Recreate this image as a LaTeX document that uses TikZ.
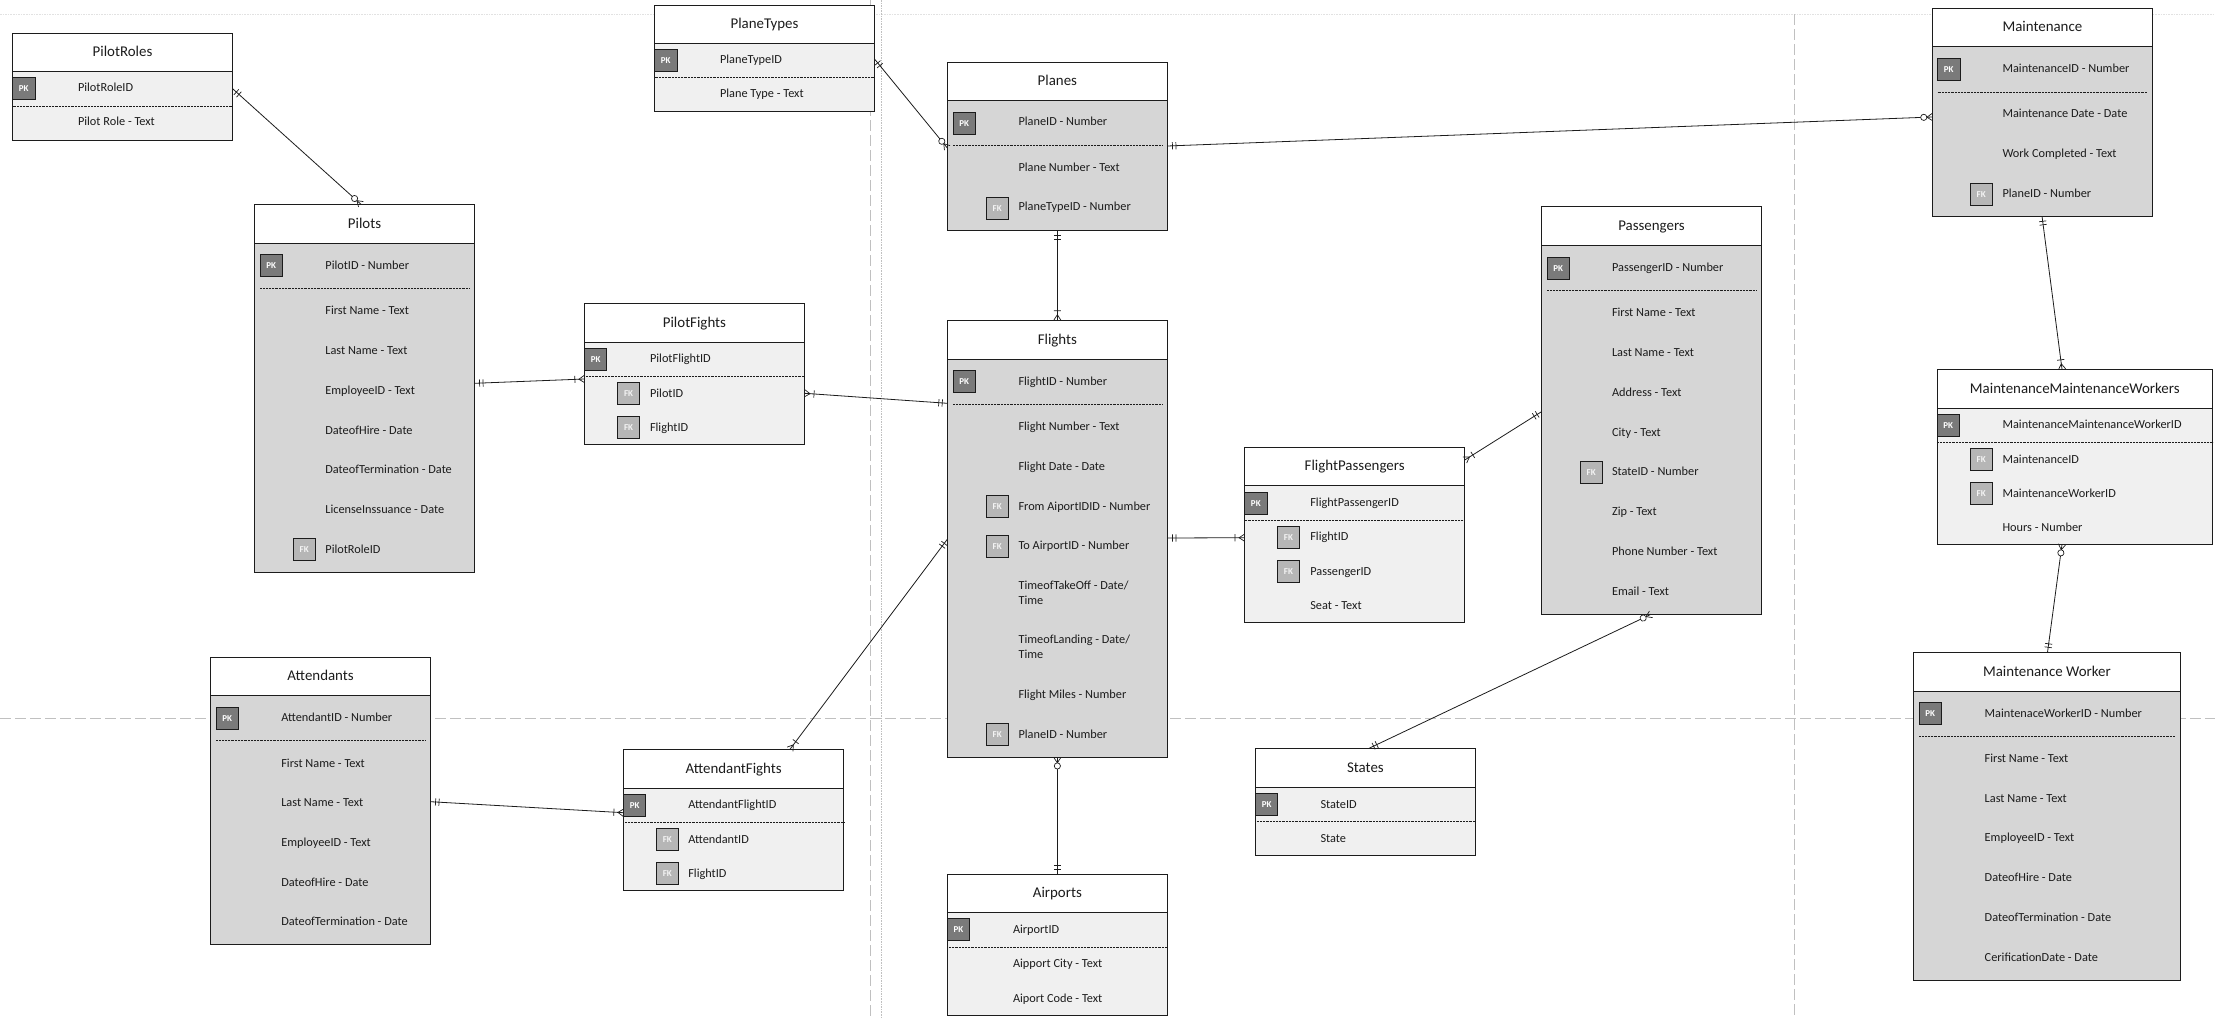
\documentclass[tikz,border=0pt]{standalone}
\usepackage{fontspec}
\setmainfont{Carlito}
\usetikzlibrary{decorations.markings}
\definecolor{darkfill}{HTML}{D6D6D6}
\definecolor{lightfill}{HTML}{F0F0F0}
\definecolor{pkfill}{HTML}{7A7A7A}
\definecolor{fkfill}{HTML}{B6B6B6}
\definecolor{inkc}{HTML}{1C1C1C}
\definecolor{guide}{HTML}{C0C0C0}
\definecolor{guidelight}{HTML}{E2E2E2}
\newcounter{itemc}
\newcommand{\mkOneOne}{\draw[markline] (-5pt,-3.6pt)--(-5pt,3.6pt) (-8.5pt,-3.6pt)--(-8.5pt,3.6pt);}
\newcommand{\mkOneMany}{\draw[markline] (-9.5pt,-3.6pt)--(-9.5pt,3.6pt) (0pt,-3.6pt)--(-5.5pt,0pt)--(0pt,3.6pt);}
\newcommand{\mkZeroMany}{\draw[markline] (0pt,-3.6pt)--(-5.5pt,0pt)--(0pt,3.6pt); \draw[markline,fill=white] (-8.6pt,0pt) circle (3.1pt);}
\tikzset{
  markline/.style={draw=inkc,line width=0.7pt},
  conn/.style={draw=inkc,line width=0.8pt},
  startOneOne/.style={postaction={decorate,decoration={markings,mark=at position 0.05pt with {\begin{scope}[xscale=-1]\mkOneOne\end{scope}}}}},
  startOneMany/.style={postaction={decorate,decoration={markings,mark=at position 0.05pt with {\begin{scope}[xscale=-1]\mkOneMany\end{scope}}}}},
  startZeroMany/.style={postaction={decorate,decoration={markings,mark=at position 0.05pt with {\begin{scope}[xscale=-1]\mkZeroMany\end{scope}}}}},
  endOneOne/.style={postaction={decorate,decoration={markings,mark=at position -0.05pt with {\mkOneOne}}}},
  endOneMany/.style={postaction={decorate,decoration={markings,mark=at position -0.05pt with {\mkOneMany}}}},
  endZeroMany/.style={postaction={decorate,decoration={markings,mark=at position -0.05pt with {\mkZeroMany}}}},
  tblbody/.style={draw=inkc,line width=0.9pt,inner sep=0pt,outer sep=0pt},
  tblhead/.style={draw=inkc,line width=0.9pt,fill=white,inner sep=0pt,outer sep=0pt,text=inkc,font=\fontsize{14.9}{17}\selectfont},
  rowtext/.style={anchor=west,inner sep=0pt,outer sep=0pt,align=left,text=inkc,yshift=-1pt,font=\fontsize{12.3}{15}\selectfont},
  keybox/.style={draw=inkc,line width=0.8pt,minimum width=22.4pt,minimum height=22.4pt,inner sep=0pt,outer sep=0pt,font=\bfseries\fontsize{9}{10}\selectfont},
  pkbox/.style={keybox,fill=pkfill,text=white},
  fkbox/.style={keybox,fill=fkfill,text=white!85!fkfill},
  sepline/.style={draw=inkc,line width=0.7pt,dash pattern=on 1pt off 0.45pt},
  guideline/.style={draw=guide,line width=0.7pt,dash pattern=on 11pt off 4pt},
  guidedot/.style={draw=guide,line width=0.7pt,dash pattern=on 1.6pt off 1pt},
  guidefaint/.style={draw=guidelight,line width=0.7pt,dash pattern=on 1.6pt off 1pt},
}
% name, x1, ytop, x2, yhead, ybot, fill, title
\newcommand{\tbl}[8]{%
  \pgfmathsetmacro{\tcx}{(#2+#4)/2}%
  \pgfmathsetmacro{\tcy}{(#3+#6)/2}%
  \pgfmathsetmacro{\thy}{(#3+#5)/2}%
  \pgfmathsetmacro{\tw}{#4-#2}%
  \pgfmathsetmacro{\th}{#6-#3}%
  \pgfmathsetmacro{\thh}{#5-#3}%
  \node[tblbody,fill=#7,minimum width=\tw pt,minimum height=\th pt] (#1) at (\tcx,\tcy) {};
  \node[tblhead,minimum width=\tw pt,minimum height=\thh pt] (#1-head) at (\tcx,\thy) {\raisebox{0pt}[11pt][2pt]{#8}};
}
\newcommand{\rowt}[3]{\stepcounter{itemc}\node[rowtext] (row\theitemc) at (#1,#2) {\strut #3\strut};}
\newcommand{\pk}[2]{\stepcounter{itemc}\node[pkbox,anchor=north west] (pk\theitemc) at (#1,#2) {PK};}
\newcommand{\fk}[2]{\stepcounter{itemc}\node[fkbox,anchor=north west] (fk\theitemc) at (#1,#2) {FK};}
\newcommand{\sep}[3]{\draw[sepline] (#1,#3) -- (#2,#3);}
\begin{document}
\begin{tikzpicture}[x=1pt,y=-1pt]
\useasboundingbox (0,0) rectangle (2215,1019);
\fill[white] (0,0) rectangle (2215,1019);
% page guides
\coordinate (gTopL) at (0,14.3); \coordinate (gTopR) at (2215,14.3);
\coordinate (gMidL) at (0,718.3); \coordinate (gMidR) at (2215,718.3);
\coordinate (gA1) at (870.5,0); \coordinate (gA2) at (870.5,1019);
\coordinate (gB1) at (881.8,0); \coordinate (gB2) at (881.8,1019);
\coordinate (gC1) at (1794.7,14.3); \coordinate (gC2) at (1794.7,1019);
\draw[guidefaint] (gTopL) -- (gTopR);
\draw[guideline] (gMidL) -- (gMidR);
\draw[guideline] (gA1) -- (gA2);
\draw[guidedot] (gB1) -- (gB2);
\draw[guideline] (gC1) -- (gC2);

% PilotRoles
\tbl{pilotroles}{12.5}{33.3}{232.6}{71.3}{140.3}{lightfill}{PilotRoles}
\pk{12.5}{77.3}
\rowt{78}{88}{PilotRoleID}
\sep{12.5}{232.6}{106.3}
\rowt{78}{122}{Pilot Role - Text}

% Pilots
\tbl{pilots}{254.5}{204.3}{474.5}{243.3}{572.3}{darkfill}{Pilots}
\pk{260}{254.3}
\rowt{325.4}{265}{PilotID - Number}
\sep{260}{469}{288.3}
\rowt{325.4}{310}{First Name - Text}
\rowt{325.4}{350}{Last Name - Text}
\rowt{325.4}{390}{EmployeeID - Text}
\rowt{325.4}{430}{DateofHire - Date}
\rowt{325.4}{469}{DateofTermination - Date}
\rowt{325.4}{509.3}{LicenseInssuance - Date}
\fk{293}{538.3}
\rowt{325.4}{549.3}{PilotRoleID}

% PlaneTypes
\tbl{planetypes}{654.5}{5.3}{874.5}{43.3}{111.3}{lightfill}{PlaneTypes}
\pk{654.5}{49.3}
\rowt{720}{60}{PlaneTypeID}
\sep{654.5}{874.5}{77.3}
\rowt{720}{94}{Plane Type - Text}

% Planes
\tbl{planes}{947.3}{62.3}{1167.4}{100.3}{230.3}{darkfill}{Planes}
\pk{953}{112.3}
\rowt{1018.5}{122}{PlaneID - Number}
\sep{953}{1162}{145.7}
\rowt{1018.5}{168}{Plane Number - Text}
\fk{986}{197.3}
\rowt{1018.5}{207}{PlaneTypeID - Number}

% Flights
\tbl{flights}{947.3}{320.3}{1167.4}{359.3}{757.3}{darkfill}{Flights}
\pk{953}{370}
\rowt{1018.5}{381}{FlightID - Number}
\sep{953}{1162}{404.3}
\rowt{1018.5}{426}{Flight Number - Text}
\rowt{1018.5}{466}{Flight Date - Date}
\fk{986}{495}
\rowt{1018.5}{506}{From AiportIDID - Number}
\fk{986}{535}
\rowt{1018.5}{545}{To AirportID - Number}
\rowt{1018.5}{592.5}{TimeofTakeOff - Date/\\Time}
\rowt{1018.5}{646.5}{TimeofLanding - Date/\\Time}
\rowt{1018.5}{694}{Flight Miles - Number}
\fk{986}{723.3}
\rowt{1018.5}{734}{PlaneID - Number}

% PilotFights
\tbl{pilotfights}{584.4}{303.3}{804.5}{342.3}{444.3}{lightfill}{PilotFights}
\pk{584.4}{348.3}
\rowt{650}{358}{PilotFlightID}
\sep{584.4}{804.5}{376.3}
\fk{617.4}{382.3}
\rowt{650}{393}{PilotID}
\fk{617.4}{416.3}
\rowt{650}{427}{FlightID}

% Passengers
\tbl{passengers}{1541.5}{206.3}{1761.5}{245.3}{614.3}{darkfill}{Passengers}
\pk{1547}{257}
\rowt{1612}{267}{PassengerID - Number}
\sep{1547}{1756}{290.3}
\rowt{1612}{312}{First Name - Text}
\rowt{1612}{352}{Last Name - Text}
\rowt{1612}{392}{Address - Text}
\rowt{1612}{432}{City - Text}
\fk{1580}{461}
\rowt{1612}{471}{StateID - Number}
\rowt{1612}{511}{Zip - Text}
\rowt{1612}{551}{Phone Number - Text}
\rowt{1612}{591}{Email - Text}

% Maintenance
\tbl{maintenance}{1932.4}{8.3}{2152.4}{46.3}{216.3}{darkfill}{Maintenance}
\pk{1937.5}{58.3}
\rowt{2002.5}{69}{MaintenanceID - Number}
\sep{1937.5}{2146.5}{92.3}
\rowt{2002.5}{114}{Maintenance Date - Date}
\rowt{2002.5}{154}{Work Completed - Text}
\fk{1970}{183.3}
\rowt{2002.5}{193}{PlaneID - Number}

% MaintenanceMaintenanceWorkers
\tbl{mmworkers}{1937}{369.3}{2212.5}{408.3}{544.3}{lightfill}{MaintenanceMaintenanceWorkers}
\pk{1937}{414.3}
\rowt{2002.5}{424}{MaintenanceMaintenanceWorkerID}
\sep{1937}{2212.5}{442.3}
\fk{1970}{448.3}
\rowt{2002.5}{459}{MaintenanceID}
\fk{1970}{482.3}
\rowt{2002.5}{493}{MaintenanceWorkerID}
\rowt{2002.5}{527}{Hours - Number}

% Maintenance Worker
\tbl{mworker}{1913.3}{652.3}{2180.4}{691.3}{980.3}{darkfill}{Maintenance Worker}
\pk{1919}{702.3}
\rowt{1984.7}{713}{MaintenaceWorkerID - Number}
\sep{1919}{2175}{736.3}
\rowt{1984.7}{758}{First Name - Text}
\rowt{1984.7}{798}{Last Name - Text}
\rowt{1984.7}{837}{EmployeeID - Text}
\rowt{1984.7}{877}{DateofHire - Date}
\rowt{1984.7}{917}{DateofTermination - Date}
\rowt{1984.7}{957}{CerificationDate - Date}

% Attendants
\tbl{attendants}{210.7}{657.3}{430.5}{695.3}{944.3}{darkfill}{Attendants}
\pk{216}{707}
\rowt{281.3}{717}{AttendantID - Number}
\sep{216}{425}{740}
\rowt{281.3}{763}{First Name - Text}
\rowt{281.3}{802}{Last Name - Text}
\rowt{281.3}{842}{EmployeeID - Text}
\rowt{281.3}{882}{DateofHire - Date}
\rowt{281.3}{921}{DateofTermination - Date}

% AttendantFights
\tbl{attfights}{623.4}{749.3}{843.9}{788.3}{890}{lightfill}{AttendantFights}
\pk{623.4}{794.3}
\rowt{688.3}{804}{AttendantFlightID}
\sep{623.4}{843.9}{822.3}
\fk{656.1}{828.3}
\rowt{688.3}{839}{AttendantID}
\fk{656.1}{862.3}
\rowt{688.3}{873}{FlightID}

% FlightPassengers
\tbl{flightpass}{1244.6}{447.3}{1464.7}{485.3}{622.3}{lightfill}{FlightPassengers}
\pk{1244.6}{492.3}
\rowt{1310.3}{502.7}{FlightPassengerID}
\sep{1244.6}{1464.7}{520.3}
\fk{1277.2}{526.3}
\rowt{1310.3}{536}{FlightID}
\fk{1277.2}{560.3}
\rowt{1310.3}{571}{PassengerID}
\rowt{1310.3}{605}{Seat - Text}

% States
\tbl{states}{1255.4}{748.3}{1475.4}{787.3}{855.3}{lightfill}{States}
\pk{1255.4}{793.3}
\rowt{1320.5}{804}{StateID}
\sep{1255.4}{1475.4}{821.7}
\rowt{1320.5}{838}{State}

% Airports
\tbl{airports}{947.3}{874.3}{1167.4}{912.3}{1015.3}{lightfill}{Airports}
\pk{947.3}{918.3}
\rowt{1013}{929}{AirportID}
\sep{947.3}{1167.4}{947.3}
\rowt{1013}{963}{Aipport City - Text}
\rowt{1013}{998}{Aiport Code - Text}

% Connectors
\draw[conn,startOneOne,endZeroMany] (pilotroles.east |- 0,88.7) -- (pilots.north -| 361,0);
\draw[conn,startOneOne,endOneMany] (pilots.east |- 0,383.3) -- (pilotfights.west |- 0,379);
\draw[conn,startOneMany,endOneOne] (pilotfights.east |- 0,393.3) -- (flights.west |- 0,403.3);
\draw[conn,startOneOne,endZeroMany] (planetypes.east |- 0,59) -- (planes.west |- 0,148);
\draw[conn,startOneOne,endZeroMany] (planes.east |- 0,146) -- (maintenance.west |- 0,117);
\draw[conn,startOneOne,endOneMany] (planes.south) -- (flights.north);
\draw[conn,startOneOne,endOneMany] (flights.west |- 0,539.3) -- (attfights.north -| 790,0);
\draw[conn,startOneOne,endOneMany] (attendants.east |- 0,801.7) -- (attfights.west |- 0,812.7);
\draw[conn,startOneOne,endOneMany] (flights.east |- 0,538) -- (flightpass.west |- 0,537.7);
\draw[conn,startOneMany,endOneOne] (flightpass.east |- 0,460) -- (passengers.west |- 0,411.7);
\draw[conn,startZeroMany,endOneOne] (passengers.south -| 1651,0) -- (states.north -| 1369,0);
\draw[conn,startOneOne,endOneMany] (maintenance.south -| 2042,0) -- (mmworkers.north -| 2062,0);
\draw[conn,startZeroMany,endOneOne] (mmworkers.south -| 2062,0) -- (mworker.north -| 2047.5,0);
\draw[conn,startZeroMany,endOneOne] (flights.south) -- (airports.north);
\end{tikzpicture}
\end{document}
